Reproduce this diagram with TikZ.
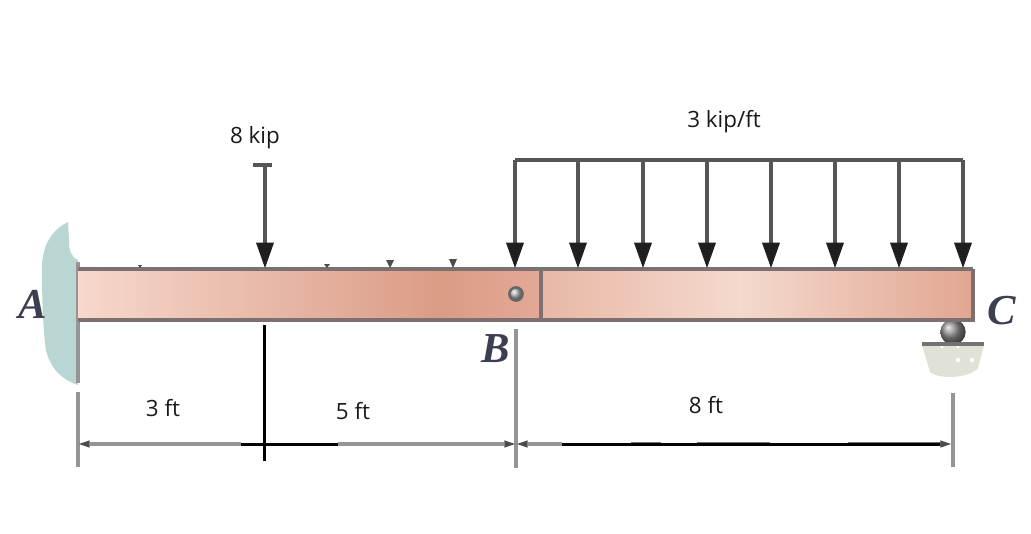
\documentclass[tikz,border=0pt]{standalone}
\usepackage{fontspec}
\setmainfont{Open Sans}
\newfontfamily\labserif{Liberation Serif}
\usetikzlibrary{arrows.meta}
\definecolor{beamedge}{HTML}{7D7071}
\definecolor{loadcol}{HTML}{555555}
\definecolor{greyline}{HTML}{959595}
\definecolor{wallcol}{HTML}{B9D6D3}
\definecolor{labcol}{HTML}{3C3F52}
\definecolor{supcol}{HTML}{E0E2D5}
\definecolor{sA}{HTML}{F6D8CC}
\definecolor{sB}{HTML}{DB9C86}
\definecolor{sC}{HTML}{E3A897}
\definecolor{sD}{HTML}{E8B8A5}
\definecolor{sE}{HTML}{F4D9CE}
\definecolor{sF}{HTML}{E2A690}
\tikzset{
  x=0.75pt,y=-0.75pt,
  loadarrow/.style={draw=loadcol,line width=2.3pt,-{Triangle[length=19pt,width=13.5pt,line width=0pt,fill=black!88,color=black!88]}},
  greydim/.style={draw=greyline,line width=2.3pt},
  greyext/.style={draw=greyline,line width=2.3pt},
  dimtip/.style={-{Triangle[length=8pt,width=5.5pt,line width=0pt,color=black!70,fill=black!70]}},
  blackline/.style={draw=black,line width=2.25pt},
  txt/.style={font=\fontsize{16.8}{20}\selectfont,text=black!90,inner sep=0pt},
  lab/.style={font=\labserif\bfseries\itshape\fontsize{32}{34}\selectfont,text=labcol,inner sep=0pt},
  beamline/.style={draw=beamedge,line width=2.3pt},
}
\begin{document}
\begin{tikzpicture}
\useasboundingbox (0,0) rectangle (1031,533);
\fill[white] (0,0) rectangle (1031,533);
% coordinates
\coordinate (b) at (516,294);
\coordinate (lt) at (515,160);
\coordinate (rt) at (963,160);
\coordinate (Ptop) at (265,165);
\coordinate (Pbot) at (265,268);
% wall
\fill[wallcol] (68,222) .. controls (52,230) and (42,245) .. (42,268)
  .. controls (42,300) and (43,330) .. (46,350)
  .. controls (50,368) and (62,380) .. (78,385) -- (78,260)
  .. controls (70,256) and (69,250) .. (69,240) -- cycle;
\draw[draw=greyline,line width=2.6pt] (78,262) -- (78,383);
% support ball first, so the beam lies over it
\node[circle,inner sep=0pt,minimum size=19pt,ball color=black!45,shading=ball] (ball) at (953,332) {};
% beam
\shade[left color=sA,right color=sB] (78,270) rectangle (440,320);
\shade[left color=sB,right color=sC] (440,270) rectangle (541,320);
\shade[left color=sD,right color=sE] (541,270) rectangle (740,320);
\shade[left color=sE,right color=sF] (740,270) rectangle (973,320);
\draw[beamline] (78,269) -- (973,269);
\draw[beamline] (973,269) -- (973,320) -- (78,320);
\draw[beamline] (541,269) -- (541,320);
% pin
\node[circle,draw=black!60,line width=1.8pt,inner sep=0pt,minimum size=10pt,ball color=black!30,shading=ball] (pin) at (b) {};
% support
\fill[supcol] (922,345) -- (984,345) -- (978,368) .. controls (970,378) and (940,380) .. (930,372) -- cycle;
\fill[white] (942,347) circle (1.7) (958,347) circle (1.7) (958,360) circle (2.2) (972,360) circle (2.2);
\draw[draw=black!55,line width=2.3pt] (922,344) -- (984,344);
% loads
\draw[draw=loadcol,line width=2.3pt] (lt) -- (rt);
\foreach \n/\x in {1/515,2/578,3/643,4/707,5/771,6/835,7/899,8/963}{
  \coordinate (u\n) at (\x,160);
  \coordinate (v\n) at (\x,268);
  \draw[loadarrow] (u\n) -- (v\n);
}
\draw[loadarrow] (Ptop) -- (Pbot);
\draw[draw=loadcol,line width=2.3pt] (253,165) -- (272,165);
% remnant tips
\foreach \x/\h/\w in {140/3/2,327/4/3,390/8/4,453/9/4}{
  \fill[black!70] (\x-\w,268-\h) -- (\x+\w,268-\h) -- (\x,268) -- cycle;
}
% extension lines
\coordinate (e1a) at (78,392); \coordinate (e1b) at (78,467);
\coordinate (e2a) at (516,329); \coordinate (e2b) at (516,468);
\coordinate (e3a) at (953,393); \coordinate (e3b) at (953,467);
\draw[greyext] (e1a) -- (e1b);
\draw[greyext] (e2a) -- (e2b);
\draw[greyext] (e3a) -- (e3b);
% dimension arrows
\coordinate (d1) at (79,444); \coordinate (d2) at (241,444);
\coordinate (d3) at (338,444); \coordinate (d4) at (515,444);
\coordinate (d5) at (517,444); \coordinate (d6) at (562,444);
\coordinate (d7) at (951,444);
\draw[greydim,dimtip] (d2) -- (d1);
\draw[greydim,dimtip] (d3) -- (d4);
\draw[greydim,dimtip] (d6) -- (d5);
\draw[draw=black!55,line width=3.6pt] (631,444) -- (661,444);
\draw[draw=black!55,line width=3.6pt] (697,444) -- (770,444);
\draw[draw=black!55,line width=3.6pt] (848,444) -- (945,444);
\draw[blackline,dimtip] (d6) -- (d7);
% black overlay lines
\coordinate (k1) at (264,325); \coordinate (k2) at (264,461);
\coordinate (k3) at (241,444); \coordinate (k4) at (338,444);
\draw[blackline] (k1) -- (k2);
\draw[blackline] (k3) -- (k4);
% labels
\node[txt] (t8kip) at (255,138) {8 kip};
\node[txt] (t3kip) at (724,122) {3 kip/ft};
\node[txt] (t3ft) at (163,408) {3 ft};
\node[txt] (t5ft) at (353,411) {5 ft};
\node[txt] (t8ft) at (706,405) {8 ft};
\node[lab] (lA) at (33,304) {A};
\node[lab] (lB) at (496,349) {B};
\node[lab] (lC) at (1002,311) {C};
\end{tikzpicture}
\end{document}
